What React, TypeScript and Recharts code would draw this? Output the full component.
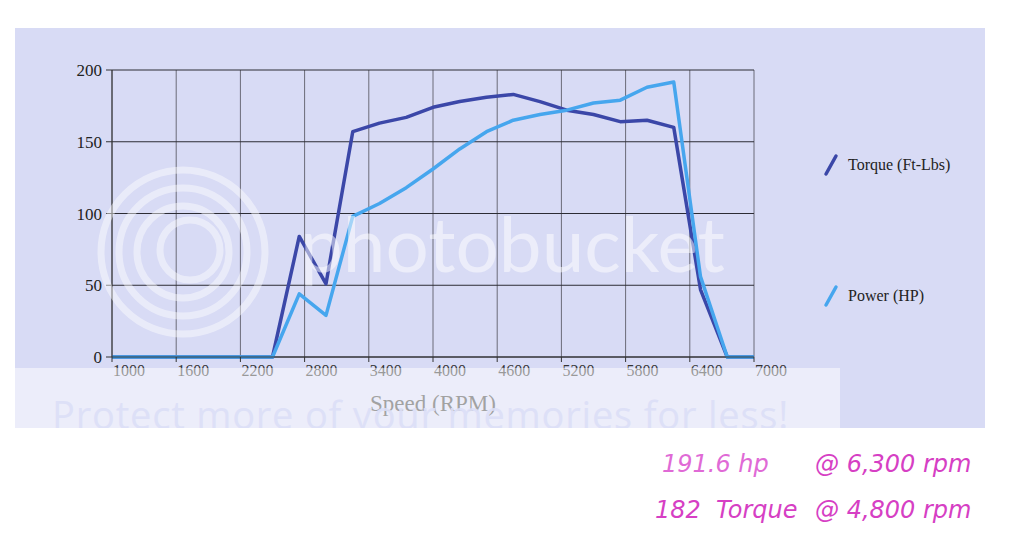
import { LineChart, Line, XAxis, YAxis, CartesianGrid } from "recharts";

// engine speed (rpm) at each dyno sample
const rpm = [
  1000, 1250, 1500, 1750, 2000, 2250, 2500, 2750, 3000, 3250, 3500, 3750, 4000,
  4250, 4500, 4750, 5000, 5250, 5500, 5750, 6000, 6250, 6500, 6750, 7000,
];
const torque = [
  0, 0, 0, 0, 0, 0, 0, 84, 51, 157, 163, 167, 174, 178, 181, 183, 178, 172, 169,
  164, 165, 160, 47, 0, 0,
];
const power = [
  0, 0, 0, 0, 0, 0, 0, 44, 29, 98, 107, 118, 131, 145, 157, 165, 169, 172, 177,
  179, 188, 191.6, 56, 0, 0,
];
const xTicks = [1000, 1600, 2200, 2800, 3400, 4000, 4600, 5200, 5800, 6400, 7000];
const yTicks = [0, 50, 100, 150, 200];

const TORQUE = "#3b47a8";
const POWER = "#46a6ee";
const SERIF = "'Liberation Serif', 'Times New Roman', serif";

const data = rpm.map((r, i) => ({ rpm: r, torque: torque[i], power: power[i] }));

// x labels sit just right of their gridline, like the original
const XTick = ({ x, y, payload }: { x?: number; y?: number; payload?: { value: number } }) => (
  <text
    x={(x ?? 0) + 1}
    y={y}
    dy="0.71em"
    textAnchor="start"
    fill="#333"
    style={{ fontSize: 16, fontFamily: SERIF }}
  >
    {payload?.value}
  </text>
);

const LegendItem = ({ color, label, top }: { color: string; label: string; top: number }) => (
  <div style={{ position: "absolute", left: 822, top, display: "flex", alignItems: "center" }}>
    <svg width={18} height={24}>
      <line x1={4} y1={21} x2={14} y2={3} stroke={color} strokeWidth={3.5} strokeLinecap="round" />
    </svg>
    <span style={{ marginLeft: 8, fontFamily: SERIF, fontSize: 16, color: "#222" }}>{label}</span>
  </div>
);

const note = (left: number, top: number, color: string) => ({
  position: "absolute" as const,
  left,
  top,
  fontFamily: "'DejaVu Sans', sans-serif",
  fontStyle: "italic",
  fontSize: 24,
  color,
  whiteSpace: "pre" as const,
});

export default function App() {
  return (
    <div
      style={{
        position: "absolute",
        left: 0,
        top: 0,
        width: 1024,
        height: 560,
        background: "#fff",
        overflow: "hidden",
      }}
    >
      {/* scanned panel */}
      <div
        style={{ position: "absolute", left: 15, top: 28, width: 970, height: 400, background: "#d8dbf5" }}
      />

      <div style={{ position: "absolute", left: 0, top: 0 }}>
        <LineChart
          width={1024}
          height={560}
          data={data}
          margin={{ top: 70, right: 270, bottom: 173, left: 72 }}
        >
          <CartesianGrid horizontal={false} stroke="#6b6b78" strokeWidth={1} />
          <CartesianGrid vertical={false} stroke="#2c2c34" strokeWidth={1} />
          <XAxis
            dataKey="rpm"
            type="number"
            domain={[1000, 7000]}
            ticks={xTicks}
            interval={0}
            height={30}
            tick={XTick as never}
            tickSize={5}
            tickMargin={3}
            stroke="#333"
            label={{
              value: "Speed (RPM)",
              position: "bottom",
              offset: 8,
              fill: "#444",
              fontSize: 23,
              fontFamily: SERIF,
            }}
          />
          <YAxis
            domain={[0, 200]}
            ticks={yTicks}
            width={40}
            tickSize={6}
            tickMargin={4}
            stroke="#333"
            tick={{ fill: "#222", fontSize: 17, fontFamily: SERIF }}
          />
          <Line
            type="linear"
            dataKey="torque"
            stroke={TORQUE}
            strokeWidth={3.5}
            strokeLinejoin="round"
            dot={false}
            isAnimationActive={false}
          />
          <Line
            type="linear"
            dataKey="power"
            stroke={POWER}
            strokeWidth={3.5}
            strokeLinejoin="round"
            dot={false}
            isAnimationActive={false}
          />
        </LineChart>
      </div>

      <LegendItem color={TORQUE} label="Torque (Ft-Lbs)" top={153} />
      <LegendItem color={POWER} label="Power (HP)" top={284} />

      {/* photobucket watermark */}
      <svg
        width={1024}
        height={560}
        style={{ position: "absolute", left: 0, top: 0, pointerEvents: "none" }}
      >
        <g fill="none" stroke="#fff" strokeOpacity={0.45} strokeWidth={7}>
          <circle cx={183} cy={252} r={82} />
          <circle cx={183} cy={252} r={64} />
          <circle cx={183} cy={252} r={46} />
          <circle cx={190} cy={250} r={30} />
        </g>
        <text
          x={300}
          y={272}
          fill="#fff"
          fillOpacity={0.5}
          style={{ fontSize: 76, fontFamily: "Lato, 'Open Sans', sans-serif" }}
          textLength={425}
          lengthAdjust="spacingAndGlyphs"
        >
          photobucket
        </text>
      </svg>

      {/* promo banner, its text clipped at the bottom edge as in the scan */}
      <div
        style={{
          position: "absolute",
          left: 15,
          top: 368,
          width: 825,
          height: 60,
          background: "rgba(255,255,255,0.5)",
          overflow: "hidden",
        }}
      >
        <div
          style={{
            position: "absolute",
            left: 37,
            top: 25,
            fontFamily: "'Open Sans', sans-serif",
            fontSize: 38,
            lineHeight: "42px",
            letterSpacing: 0.8,
            color: "#dcdff7",
            whiteSpace: "nowrap",
            opacity: 0.9,
          }}
        >
          Protect more of your memories for less!
        </div>
      </div>

      {/* handwritten notes */}
      <div style={note(662, 450, "#e06ad6")}>191.6 hp</div>
      <div style={note(815, 450, "#d63fc4")}>@ 6,300 rpm</div>
      <div style={note(655, 496, "#d63fc4")}>182  Torque</div>
      <div style={note(815, 496, "#d63fc4")}>@ 4,800 rpm</div>
    </div>
  );
}
